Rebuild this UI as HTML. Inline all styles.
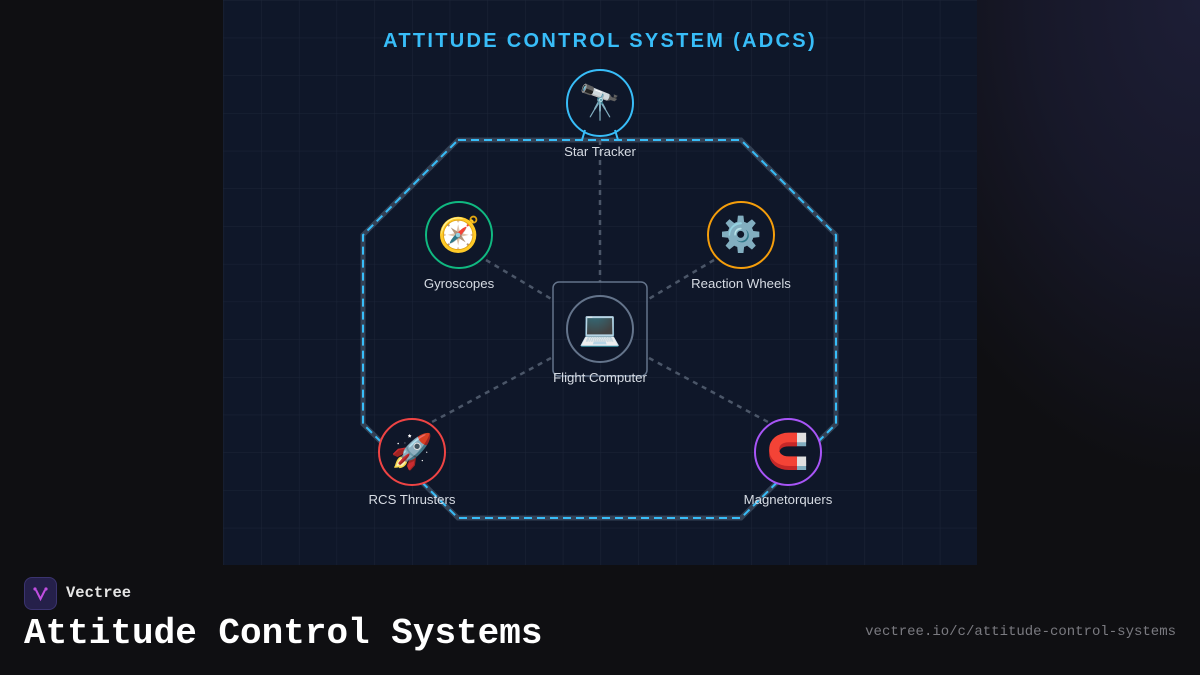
<!DOCTYPE html>
<html><head><meta charset="utf-8"><style>
html,body{margin:0;padding:0}
body{width:1200px;height:675px;overflow:hidden;background:#0f0f12;position:relative;font-family:"Liberation Sans",sans-serif}
#panel{position:absolute;left:223px;top:0;width:754px;height:565px;background:#0f1729}
.lbl{font-family:"Liberation Sans",sans-serif;font-size:13.2px;fill:#d6dbe3;text-anchor:middle}
.emo{font-size:34px;text-anchor:middle;dominant-baseline:central}
</style></head><body>
<div style="position:absolute;right:0;top:0;width:223px;height:675px;background:radial-gradient(ellipse 330px 480px at 100% 0%,#1d1e36 0%,#171829 50%,#0f0f12 100%)"></div>
<div id="panel"></div>
<svg width="1200" height="675" style="position:absolute;left:0;top:0">
<defs>
<pattern id="g" x="223.5" y="0" width="37.7" height="37.7" patternUnits="userSpaceOnUse">
<path d="M0 0V37.7M0 0H37.7" stroke="#1c2538" stroke-width="1" fill="none"/>
</pattern>
</defs>
<rect x="223" y="0" width="754" height="565" fill="url(#g)"/>
<text x="600" y="47" font-family="Liberation Sans" font-weight="bold" font-size="20" letter-spacing="2.3" fill="#38bdf8" text-anchor="middle">ATTITUDE CONTROL SYSTEM (ADCS)</text>
<polygon points="458,140 741,140 836,235 836,424 741,518 458,518 363,424 363,235" fill="none" stroke="#334155" stroke-width="5"/>
<polygon points="458,140 741,140 836,235 836,424 741,518 458,518 363,424 363,235" fill="none" stroke="#38bdf8" stroke-width="2" stroke-dasharray="8,5"/>
<g stroke="#4b5668" stroke-width="2.5" stroke-dasharray="5,5">
<line x1="600" y1="140" x2="600" y2="282"/>
<line x1="486" y1="260" x2="553" y2="300"/>
<line x1="714" y1="260" x2="647" y2="300"/>
<line x1="551" y1="358" x2="432" y2="422"/>
<line x1="649" y1="358" x2="768" y2="422"/>
</g>
<rect x="553" y="282" width="94" height="94" rx="6" fill="none" stroke="#64748b" stroke-width="1.5"/>
<circle cx="600" cy="329" r="33" fill="#0f1729" stroke="#64748b" stroke-width="2"/>
<circle cx="600" cy="103" r="33" fill="#0f1729" stroke="#38bdf8" stroke-width="2"/>
<line x1="585" y1="130" x2="582" y2="140" stroke="#38bdf8" stroke-width="2"/>
<line x1="615" y1="130" x2="618" y2="140" stroke="#38bdf8" stroke-width="2"/>
<circle cx="459" cy="235" r="33" fill="#0f1729" stroke="#10b981" stroke-width="2"/>
<circle cx="741" cy="235" r="33" fill="#0f1729" stroke="#f59e0b" stroke-width="2"/>
<circle cx="412" cy="452" r="33" fill="#0f1729" stroke="#ef4444" stroke-width="2"/>
<circle cx="788" cy="452" r="33" fill="#0f1729" stroke="#a855f7" stroke-width="2"/>
<text class="emo" x="600" y="103">🔭</text>
<text class="emo" x="459" y="235">🧭</text>
<text class="emo" x="741" y="235">⚙️</text>
<text class="emo" x="600" y="329">💻</text>
<text class="emo" x="412" y="452">🚀</text>
<text class="emo" x="788" y="452">🧲</text>
<text class="lbl" x="600" y="156">Star Tracker</text>
<text class="lbl" x="459" y="288">Gyroscopes</text>
<text class="lbl" x="741" y="288">Reaction Wheels</text>
<text class="lbl" x="600" y="382">Flight Computer</text>
<text class="lbl" x="412" y="504">RCS Thrusters</text>
<text class="lbl" x="788" y="504">Magnetorquers</text>
</svg>
<div style="position:absolute;left:24px;top:577px;width:33px;height:33px;border-radius:8px;background:#25204a;border:1px solid #3b3470;box-sizing:border-box">
<svg width="33" height="33" style="position:absolute;left:-1px;top:-1px"><path d="M12 13 L16.5 22 L21 13" stroke="#c04ee0" stroke-width="2" fill="none"/><circle cx="11" cy="12" r="1.6" fill="#c04ee0"/><circle cx="22" cy="12" r="1.6" fill="#c04ee0"/></svg></div>
<div style="position:absolute;left:66px;top:584px;font-family:'Liberation Mono',monospace;font-weight:bold;font-size:15.5px;color:#e5e5e5">Vectree</div>
<div style="position:absolute;left:24px;top:611px;font-family:'Liberation Mono',monospace;font-weight:bold;font-size:36px;color:#fff;line-height:46px">Attitude Control Systems</div>
<div style="position:absolute;right:24px;top:624px;font-family:'Liberation Mono',monospace;font-size:14px;color:#7a7a80">vectree.io/c/attitude-control-systems</div>
</body></html>
